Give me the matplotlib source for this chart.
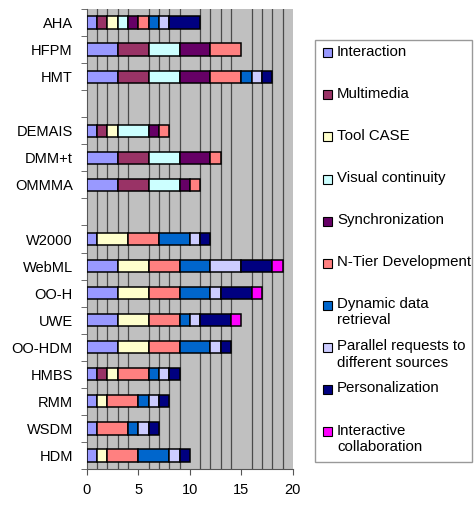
import numpy as np
import matplotlib
matplotlib.use("Agg")
import matplotlib.pyplot as plt
from matplotlib.patches import Rectangle

plt.rcParams["font.family"] = ["Liberation Sans", "DejaVu Sans"]

# rows top -> bottom, "" = empty spacer row
methods = ["AHA", "HFPM", "HMT", "", "DEMAIS", "DMM+t", "OMMMA", "",
           "W2000", "WebML", "OO-H", "UWE", "OO-HDM", "HMBS", "RMM", "WSDM", "HDM"]

features = ["Interaction", "Multimedia", "Tool CASE", "Visual continuity",
            "Synchronization", "N-Tier Development", "Dynamic data\nretrieval",
            "Parallel requests to\ndifferent sources", "Personalization",
            "Interactive\ncollaboration"]

colors = ["#9999FF", "#993366", "#FFFFCC", "#CCFFFF", "#660066",
          "#FF8080", "#0066CC", "#CCCCFF", "#000080", "#FF00FF"]

# one list per feature, values per row (same order as methods)
interaction   = [1, 3, 3, 0, 1, 3, 3, 0, 1, 3, 3, 3, 3, 1, 1, 1, 1]
multimedia    = [1, 3, 3, 0, 1, 3, 3, 0, 0, 0, 0, 0, 0, 1, 0, 0, 0]
tool_case     = [1, 0, 0, 0, 1, 0, 0, 0, 3, 3, 3, 3, 3, 1, 1, 0, 1]
visual        = [1, 3, 3, 0, 3, 3, 3, 0, 0, 0, 0, 0, 0, 0, 0, 0, 0]
synchro       = [1, 3, 3, 0, 1, 3, 1, 0, 0, 0, 0, 0, 0, 0, 0, 0, 0]
ntier         = [1, 3, 3, 0, 1, 1, 1, 0, 3, 3, 3, 3, 3, 3, 3, 3, 3]
dynamic       = [1, 0, 1, 0, 0, 0, 0, 0, 3, 3, 3, 1, 3, 1, 1, 1, 3]
parallel      = [1, 0, 1, 0, 0, 0, 0, 0, 1, 3, 1, 1, 1, 1, 1, 1, 1]
personal      = [3, 0, 1, 0, 0, 0, 0, 0, 1, 3, 3, 3, 1, 1, 1, 1, 1]
interactive   = [0, 0, 0, 0, 0, 0, 0, 0, 0, 1, 1, 1, 0, 0, 0, 0, 0]

series = [interaction, multimedia, tool_case, visual, synchro, ntier,
          dynamic, parallel, personal, interactive]

fig = plt.figure(figsize=(4.74, 5.14), dpi=100)
ax = fig.add_axes([0.183, 0.0875, 0.435, 0.895])
ax.set_facecolor("#C0C0C0")

y = np.arange(len(methods))
left = np.zeros(len(methods))
for vals, c in zip(series, colors):
    v = np.array(vals, dtype=float)
    m = v > 0
    ax.barh(y[m], v[m], left=left[m], height=0.45, color=c,
            edgecolor="black", linewidth=1.1, zorder=3)
    left += v

ax.set_xlim(0, 20)
ax.set_ylim(len(methods) - 0.5, -0.5)
ax.set_xticks([0, 5, 10, 15, 20])
ax.set_xticks(np.arange(0, 21), minor=True)
ax.xaxis.grid(True, which="minor", color="#4a4a4a", lw=0.9, zorder=1)
ax.set_yticks(y)
ax.set_yticklabels(methods)
ax.set_yticks(np.arange(-0.5, len(methods)), minor=True)
ax.tick_params(axis="y", which="major", length=0, pad=10, labelsize=10.5)
ax.tick_params(axis="y", which="minor", length=4, color="#555555")
ax.tick_params(axis="x", which="major", length=4, pad=6, labelsize=10.5,
               color="#555555")
ax.tick_params(axis="x", which="minor", length=0)
for s in ("top", "right"):
    ax.spines[s].set_visible(False)
for s in ("left", "bottom"):
    ax.spines[s].set_color("#555555")

# legend drawn by hand so entries sit evenly spaced with first-line handles
W, H = 474.0, 514.0
fig.add_artist(Rectangle((315 / W, 1 - 462 / H), 157 / W, 422 / H,
                         transform=fig.transFigure, facecolor="white",
                         edgecolor="#999999", lw=1.0))
for i, (lab, c) in enumerate(zip(features, colors)):
    yc = 52.7 + i * 42.1
    fig.add_artist(Rectangle((323 / W, 1 - (yc + 4.5) / H), 9 / W, 9 / H,
                             transform=fig.transFigure, facecolor=c,
                             edgecolor="black", lw=0.8))
    fig.text(337 / W, 1 - (yc - 8) / H, lab, fontsize=10.8, va="top",
             ha="left", linespacing=1.2)

fig.savefig("out.png", dpi=100)
